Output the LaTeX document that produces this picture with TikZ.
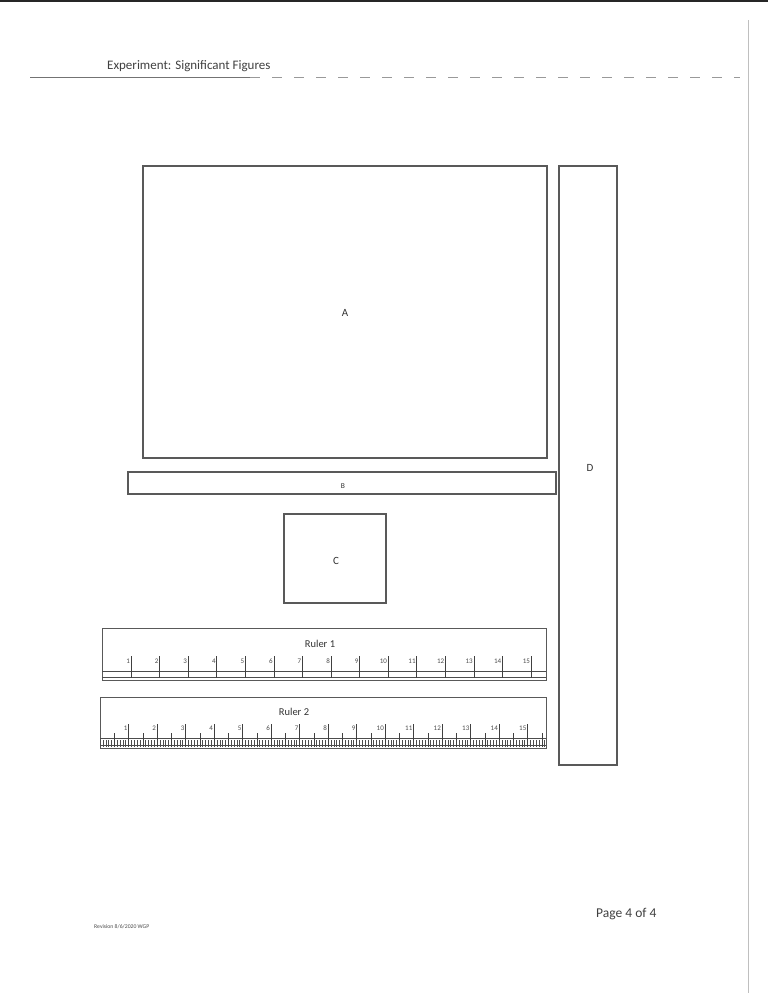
\documentclass[tikz,border=0pt]{standalone}
\usepackage{fontspec}
\setmainfont{Carlito}
\begin{document}
\begin{tikzpicture}[x=1pt,y=-1pt,
  boxline/.style={draw=black!65,line width=1.1pt},
  lbl/.style={inner sep=0pt,text=black!80},
  tick/.style={draw=black!75,line width=0.7pt},
  fine/.style={draw=black!70,line width=0.4pt},
  num/.style={inner sep=0pt,font=\fontsize{7}{7}\selectfont,text=black!70,anchor=east}]
\useasboundingbox (0,0) rectangle (768,993);
\fill[white] (0,0) rectangle (768,993);
% scan edges
\draw[black!85,line width=2pt] (0,1) -- (768,1);
\draw[black!25,line width=0.6pt] (748,20) -- (748,993);
% header
\node[lbl,anchor=west,font=\fontsize{13}{13}\selectfont,text=black!75] (hdr) at (107,66) {Experiment: Significant Figures};
\coordinate (h1) at (30,77);
\coordinate (h2) at (250,77);
\coordinate (h3) at (740,77);
\draw[black!55,line width=0.6pt] (h1) -- (h2);
\draw[black!40,line width=0.6pt,dash pattern=on 10pt off 12pt] (h2) -- (h3);
% boxes
\draw[boxline] (143,166) rectangle (547,458);
\node[lbl,font=\fontsize{11}{11}\selectfont] (A) at (345,313) {A};
\draw[boxline] (128,472) rectangle (556,494);
\node[lbl,font=\fontsize{7.5}{7.5}\selectfont] (B) at (343,486) {B};
\draw[boxline] (284,514) rectangle (386,603);
\node[lbl,font=\fontsize{11}{11}\selectfont] (C) at (336,561) {C};
\draw[boxline] (559,166) rectangle (617,765);
\node[lbl,font=\fontsize{11}{11}\selectfont] (D) at (590,468) {D};
% Ruler 1
\draw[boxline,line width=0.9pt] (102,628) rectangle (546,680);
\node[lbl,font=\fontsize{10.5}{10.5}\selectfont] (r1) at (320,644) {Ruler 1};
\draw[fine] (102,671) -- (546,671);
\draw[fine] (102,677) -- (546,677);
\foreach \i in {1,...,15}{
  \draw[tick] ({102.5+28.57*\i},656) -- ({102.5+28.57*\i},678);
  \node[num] at ({101.5+28.57*\i},661) {\i};
}
% Ruler 2
\draw[boxline,line width=0.9pt] (100,697) rectangle (546,748);
\node[lbl,font=\fontsize{10.5}{10.5}\selectfont] (r2) at (294,712) {Ruler 2};
\draw[fine] (100,738) -- (546,738);
\draw[fine] (100,745) -- (546,745);
\foreach \k in {0,...,156}{
  \draw[fine,line width=0.35pt] ({100+2.85*\k},747) -- ({100+2.85*\k},740);
}
\foreach \i in {0,...,15}{
  \draw[tick,line width=0.5pt] ({100+28.5*\i+14.25},747) -- ({100+28.5*\i+14.25},733);
}
\foreach \i in {1,...,15}{
  \draw[tick] ({100+28.5*\i},747) -- ({100+28.5*\i},724);
  \node[num] at ({99+28.5*\i},728) {\i};
}
% footer
\node[lbl,anchor=west,font=\fontsize{5.7}{5.7}\selectfont,text=black!70] (rev) at (94,927) {Revision 8/6/2020 WGP};
\node[lbl,anchor=west,font=\fontsize{13.5}{13.5}\selectfont,text=black!75] (pg) at (596,914) {Page 4 of 4};
\end{tikzpicture}
\end{document}
